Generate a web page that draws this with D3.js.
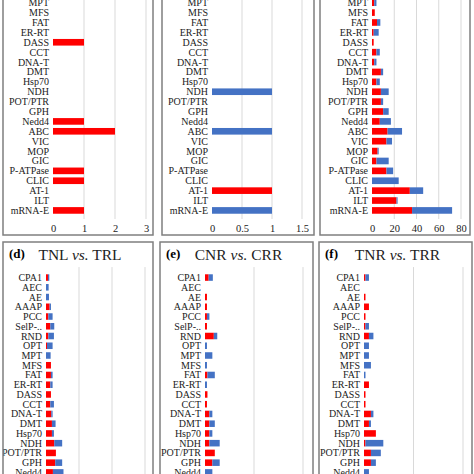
<!DOCTYPE html>
<html><head><meta charset="utf-8">
<script src="https://cdn.jsdelivr.net/npm/d3@7"></script>
<style>body{margin:0;background:#fff}svg{display:block}</style>
</head><body>
<div class="container"></div>
<script>
const categories = ["CPA1","AEC","AE","AAAP","PCC","SelP-..","RND","OPT","MPT","MFS","FAT","ER-RT","DASS","CCT","DNA-T","DMT","Hsp70","NDH","POT/PTR","GPH","Nedd4","ABC","VIC","MOP","GIC","P-ATPase","CLIC","AT-1","ILT","mRNA-E"];

// panel (a)
const aRed  = [0,0,0,0,0,0,0,0,0,0,0,0,1,0,0,0,0,0,0,0,1,2,0,0,0,1,1,0,0,1];
const aBlue = [0,0,0,0,0,0,0,0,0,0,0,0,0,0,0,0,0,0,0,0,0,0,0,0,0,0,0,0,0,0];
// panel (b)
const bRed  = [0,0,0,0,0,0,0,0,0,0,0,0,0,0,0,0,0,0,0,0,0,0,0,0,0,0,0,1,0,0];
const bBlue = [0,0,0,0,0,0,0,0,0,0,0,0,0,0,0,0,0,1,0,0,0,1,0,0,0,0,0,0,0,1];
// panel (c)
const cRed  = [1,0,1,2,1,2,2,1,2,2.5,4.5,1.5,1.5,4,2,8,4,8,8,10,7,14,13,5,4,13,0,34,22,36];
const cBlue = [1,1,1,1,2,2,3,2,2,0,3,4.5,0,3,2,2,3,7,2,5,10,13,5,1,11,6,24,12,1,36];
// panel (d)
const dRed  = [1.2,0,0,2.2,1.4,2.6,1.4,0.6,0,3,3,2.6,3,2.6,3.2,3.6,3.6,5,6,5.6,4.2,6,5,2,2,5,1,14,9,16];
const dBlue = [0.8,1.6,1.8,0.8,2.6,2.4,3.4,3.4,2.8,0,1,1.4,0,2.2,0.8,2.2,1.2,4.8,0,4.2,6.4,5,3,1,4,3,8,6,1,15];
// panel (e)
const eRed  = [0.75,0,0.4,0.4,0.4,0.4,1.8,0,0,0,0.5,0,0.5,0.4,0.9,0.9,0.9,0.9,2,1.5,0,1.5,1,0.5,0.5,1,0.4,3,2,4];
const eBlue = [0.85,0,0,0,0.5,0,0.7,0.4,1.5,0.4,1.5,0.4,0,0,0.6,1.1,0.6,2.1,0,1.5,1.5,1.5,0.8,0.3,1,0.8,1.5,1.5,0.4,3];
// panel (f)
const fRed  = [0.3,0,0.3,1,0.3,0.3,1,0,0,0,0,1,0.3,0.3,1.4,1,2.4,0.3,1.4,1.4,0,1.5,1,0.4,0.4,1,0.3,2.5,1.5,3];
const fBlue = [0.7,0,0,0,0,0.7,0.9,1,1,1.4,0.3,0,0,0,0.5,0.4,0,3.6,2,1,1,1.5,0.7,0.3,1,0.6,1.2,1.4,0.3,2.5];

const aTicks = [0,1,2,3], bTicks = [0,0.5,1,1.5], cTicks = [0,20,40,60,80];
const dTicks = [0,20,40,60], eTicks = [0,10,20], fTicks = [0,10,20];

const red = "#ff0000", blue = "#4472c4";
const serif = "'Liberation Serif','Times New Roman',serif";
const svg = d3.select(".container").append("svg").attr("width",474).attr("height",474)
  .style("font-family", serif);

const panels = [
  {id:"a", box:[3,-120,153,235], x:[53,146], dom:[0,3], ticks:aTicks, red:aRed, blue:aBlue, y0:-78, step:10, axis:true},
  {id:"b", box:[162,-120,314,235], x:[212,302], dom:[0,1.5], ticks:bTicks, red:bRed, blue:bBlue, y0:-78, step:10, axis:true},
  {id:"c", box:[320,-120,470,235], x:[372,461], dom:[0,80], ticks:cTicks, red:cRed, blue:cBlue, y0:-78, step:10, axis:true},
  {id:"d", box:[3,242,153,600], x:[46,145], dom:[0,60], ticks:dTicks, red:dRed, blue:dBlue, y0:276, step:9.85, title:["TNL","TRL"]},
  {id:"e", box:[160,242,313,600], x:[205,303], dom:[0,20], ticks:eTicks, red:eRed, blue:eBlue, y0:276, step:9.85, title:["CNR","CRR"]},
  {id:"f", box:[319,242,472,600], x:[364,463], dom:[0,20], ticks:fTicks, red:fRed, blue:fBlue, y0:276, step:9.85, title:["TNR","TRR"]}
];

panels.forEach(p => {
  const [bx0,by0,bx1,by1] = p.box;
  const clip = svg.append("clipPath").attr("id","clip-"+p.id);
  clip.append("rect").attr("x",bx0).attr("y",by0).attr("width",bx1-bx0).attr("height",by1-by0);
  const g = svg.append("g").attr("clip-path",`url(#clip-${p.id})`);

  const x = d3.scaleLinear().domain(p.dom).range(p.x);
  const y = d3.scaleBand().domain(categories)
    .range([p.y0 - p.step/2, p.y0 - p.step/2 + categories.length*p.step]).padding(0.33);
  const plotTop = y.range()[0] - 4, plotBot = y.range()[1] + 2;

  // gridlines
  g.append("g").selectAll("line").data(p.ticks.slice(1)).join("line")
    .attr("x1",d=>x(d)).attr("x2",d=>x(d)).attr("y1",plotTop).attr("y2",plotBot)
    .attr("stroke","#d9d9d9").attr("stroke-width",1);

  // category labels
  g.append("g").selectAll("text").data(categories).join("text")
    .attr("x",p.x[0]-4).attr("y",d=>y(d)+y.bandwidth()/2).attr("dy","0.35em")
    .attr("text-anchor","end").style("font-family",serif).attr("font-size",10)
    .attr("fill","#222").text(d=>d);

  // bars
  const rows = categories.map((c,i)=>({c, r:p.red[i], b:p.blue[i]}));
  g.append("g").selectAll("rect.r").data(rows.filter(d=>d.r>0)).join("rect")
    .attr("x",x(0)).attr("y",d=>y(d.c)).attr("height",y.bandwidth())
    .attr("width",d=>x(d.r)-x(0)).attr("fill",red);
  g.append("g").selectAll("rect.b").data(rows.filter(d=>d.b>0)).join("rect")
    .attr("x",d=>x(d.r)).attr("y",d=>y(d.c)).attr("height",y.bandwidth())
    .attr("width",d=>x(d.b)-x(0)).attr("fill",blue);

  if (p.axis) {
    const ax = g.append("g").attr("transform",`translate(0,${plotBot})`)
      .call(d3.axisBottom(x).tickValues(p.ticks).tickSize(0).tickPadding(6).tickFormat(d3.format("")));
    ax.attr("font-family", null);
    ax.select(".domain").remove();
    ax.selectAll("text").style("font-family",serif).attr("font-size",10.5).attr("fill","#222");
  }
  if (p.title) {
    g.append("text").attr("x",bx0+6).attr("y",by0+16).attr("font-size",13)
      .style("font-family",serif).attr("font-weight","bold").text(`(${p.id})`);
    const t = g.append("text").attr("x",(bx0+bx1)/2+2).attr("y",by0+18)
      .attr("text-anchor","middle").style("font-family",serif).attr("font-size",15.5).attr("fill","#222");
    t.append("tspan").text(p.title[0]+" ");
    t.append("tspan").attr("font-style","italic").text("vs.");
    t.append("tspan").text(" "+p.title[1]);
  }

  svg.append("rect").attr("x",bx0).attr("y",by0).attr("width",bx1-bx0).attr("height",by1-by0)
    .attr("fill","none").attr("stroke","#7f7f7f").attr("stroke-width",1.5);
});
</script>
</body></html>
